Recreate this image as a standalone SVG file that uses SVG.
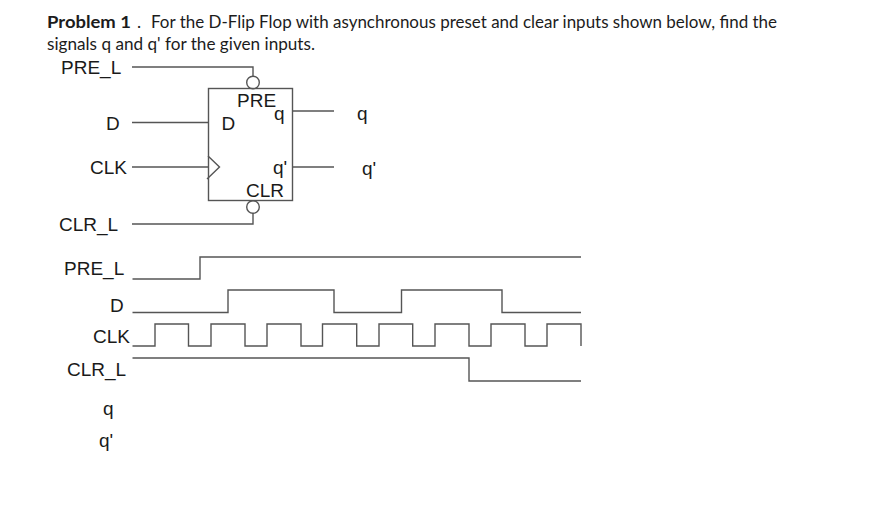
<svg xmlns="http://www.w3.org/2000/svg" width="877" height="510" viewBox="0 0 877 510">
<style>
.t{font-family:"Lato","Open Sans",sans-serif;font-size:17.5px;fill:#1c1c1c}
.l{font-family:"Liberation Sans",Arial,sans-serif;font-size:19px;fill:#1a1a1a}
.w{fill:none;stroke:#555;stroke-width:1.4}
.b{fill:none;stroke:#555;stroke-width:1.4}
</style>
<rect width="877" height="510" fill="#fff"/>
<g id="title">
<text class="t" x="47" y="28" font-weight="700" textLength="84" lengthAdjust="spacingAndGlyphs">Problem 1</text>
<text class="t" x="137" y="28">.</text>
<text class="t" x="151" y="28" textLength="626" lengthAdjust="spacingAndGlyphs">For the D-Flip Flop with asynchronous preset and clear inputs shown below, find the</text>
<text class="t" x="47" y="50" textLength="268" lengthAdjust="spacingAndGlyphs">signals q and q' for the given inputs.</text>
</g>
<g id="connectors">
<path class="w" d="M132 67H253V77"/>
<path class="w" d="M132 122.500H208"/>
<path class="w" d="M132 167H208"/>
<path class="w" d="M132 224H253V213"/>
<path class="w" d="M292 111H334"/>
<path class="w" d="M292 167H334"/>
</g>
<g id="flipflop">
<rect class="b" x="208.500" y="88.500" width="84" height="112"/>
<path class="b" d="M208 156L219.500 167L207 179"/>
<circle class="b" cx="253" cy="82.500" r="6.300"/>
<circle class="b" cx="253" cy="207" r="6.300"/>
<text class="l" x="237" y="107">PRE</text>
<text class="l" x="274" y="120">q</text>
<text class="l" x="221.500" y="130">D</text>
<text class="l" x="273" y="174">q'</text>
<text class="l" x="246" y="197">CLR</text>
</g>
<g id="labels">
<text class="l" x="61" y="74">PRE_L</text>
<text class="l" x="106" y="130">D</text>
<text class="l" x="90" y="174">CLK</text>
<text class="l" x="59" y="231">CLR_L</text>
<text class="l" x="357" y="120">q</text>
<text class="l" x="362" y="175">q'</text>
<text class="l" x="64" y="275">PRE_L</text>
<text class="l" x="110" y="312">D</text>
<text class="l" x="93" y="343">CLK</text>
<text class="l" x="67" y="376">CLR_L</text>
<text class="l" x="103" y="415">q</text>
<text class="l" x="99" y="447">q'</text>
</g>
<g id="waveforms">
<path class="w" d="M132.500 279H200V257H581"/>
<path class="w" d="M132.500 312.500H228V290H334V312.500H401.500V290H502V312.500H581"/>
<path class="w" d="M132.500 346H155V324H188.500V346H211V324H245V346H267V324H301V346H322.500V324H356.700V346H379V324H412.700V346H435V324H469V346H491V324H525V346H547V324H581V346"/>
<path class="w" d="M132.500 358H469V381H581"/>
</g>
</svg>
